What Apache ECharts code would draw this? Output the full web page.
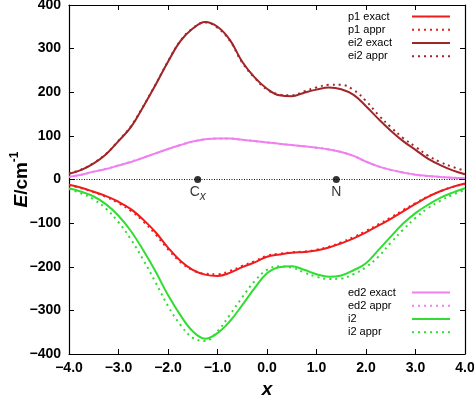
<!DOCTYPE html>
<html>
<head>
<meta charset="utf-8">
<script src="https://cdn.jsdelivr.net/npm/echarts@6/dist/echarts.min.js"></script>
<style>
html,body{margin:0;padding:0;background:#fff;}
#chart{width:474px;height:395px;}
</style>
</head>
<body>
<div id="chart"></div>
<script>
const xs = [-4,-3.75,-3.5,-3.25,-3,-2.75,-2.5,-2.25,-2,-1.75,-1.5,-1.25,-1,-0.75,-0.5,-0.25,0,0.25,0.5,0.75,1,1.25,1.5,1.75,2,2.25,2.5,2.75,3,3.25,3.5,3.75,4];

const p1Exact = [-12,-19,-28,-38,-51,-68,-92,-121,-156,-186,-207,-218,-221,-214,-201,-190,-177,-172,-168,-166,-163,-156,-146,-135,-121,-106,-90,-73,-56,-40,-27,-17,-9];
const p1Appr  = [-13,-20,-29,-40,-54,-72,-96,-126,-160,-189,-208,-216,-217,-210,-198,-187,-175,-170,-167,-165,-161,-154,-144,-132,-118,-103,-87,-70,-54,-39,-27,-17,-10];
const ei2Exact = [13,22,37,58,88,120,167,217,270,317,346,361,350,320,270,234,208,193,191,199,206,211,207,194,168,139,112,88,68,48,33,21,12];
const ei2Appr  = [14,23,38,59,89,122,168,218,271,318,347,360,348,318,268,233,206,195,193,202,211,217,217,205,180,148,120,95,75,55,40,29,20];
const ed2Exact = [6,11,18,24,32,40,50,60,70,79,87,92,94,94,91,88,85,82,79,76,73,69,63,54,41,30,22,16,11,8,6,4,3];
const ed2Appr  = [6,11,18,25,32,41,50,60,70,79,87,92,94,94,91,88,85,82,79,76,73,69,63,54,41,30,22,16,11,8,6,4,3];
const i2Exact = [-20,-28,-39,-57,-83,-118,-162,-211,-265,-311,-348,-365,-352,-325,-288,-249,-215,-201,-199,-207,-217,-223,-220,-208,-192,-162,-131,-101,-77,-58,-42,-30,-20];
const i2Appr  = [-22,-32,-46,-67,-98,-137,-184,-236,-290,-333,-363,-370,-348,-310,-270,-233,-207,-199,-202,-213,-223,-228,-227,-217,-201,-177,-145,-115,-88,-66,-49,-35,-24];

const pointNames = ['Cx','N'];
const pointX = [-1.4, 1.4];
const pointY = [0, 0];

const xTicks = [-4,-3,-2,-1,0,1,2,3,4];
const yTicks = [-400,-300,-200,-100,0,100,200,300,400];

const FONT = 'Liberation Sans, Arial, Helvetica, sans-serif';
const C_RED = '#f01c1c', C_DRED = '#a1262a', C_VIO = '#f07ff0', C_GRN = '#30dd30';
const DOT = [2,4];

function pairs(arr){ return xs.map((x,i)=>[x, arr[i]]); }
function fmtMinus(s){ return String(s).replace('-', '\u2212'); }

function lineSeries(name, arr, color, dotted, z){
  return {
    name, type:'line', data: pairs(arr), smooth: 0.4, symbol:'none', showSymbol:false,
    lineStyle:{ color, width: 2, type: dotted ? DOT : 'solid', cap:'butt' },
    itemStyle:{ color }, z: z, animation:false
  };
}

function mkLegend(names, top){
  return {
    orient:'vertical', left:348, top, padding:0, itemGap:2, itemWidth:38, itemHeight:14,
    align:'right', data:names, selectedMode:false,
    itemStyle:{ opacity:0 },
    formatter: n => '{t|' + n + '}',
    textStyle:{ fontFamily:FONT, fontSize:11, color:'#000',
      rich:{ t:{ width:59, align:'left', fontSize:11, lineHeight:14, fontFamily:FONT, color:'#000' } } }
  };
}

const chart = echarts.init(document.getElementById('chart'), null, {renderer:'canvas'});
const axisCommon = {
  axisLine:{ show:true, onZero:false, lineStyle:{ color:'#000', width:1.2 } },
  axisTick:{ show:true, inside:true, length:5, lineStyle:{ color:'#000', width:1 } },
  splitLine:{ show:false }
};

chart.setOption({
  animation:false,
  backgroundColor:'#fff',
  grid:{ left:69, right:9, top:5, bottom:41, containLabel:false, outerBoundsMode:'none' },
  legend:[
    mkLegend(['p1 exact','p1 appr','ei2 exact','ei2 appr'], 11),
    mkLegend(['ed2 exact','ed2 appr','i2','i2 appr'], 287)
  ],
  xAxis:[
    Object.assign({ type:'value', min:xTicks[0], max:xTicks[xTicks.length-1], interval:1, position:'bottom',
      name:'x', nameLocation:'middle', nameGap:22,
      nameTextStyle:{ fontFamily:FONT, fontSize:19, fontStyle:'italic', fontWeight:'bold', color:'#000' },
      axisLabel:{ show:true, margin:7, color:'#000', fontFamily:FONT, fontSize:14, fontWeight:'bold',
        formatter: v => fmtMinus(v.toFixed(1)) } }, axisCommon),
    Object.assign({ type:'value', min:xTicks[0], max:xTicks[xTicks.length-1], interval:1, position:'top',
      axisLabel:{ show:false } }, axisCommon)
  ],
  yAxis:[
    Object.assign({ type:'value', min:yTicks[0], max:yTicks[yTicks.length-1], interval:100, position:'left',
      name:'{e|E}{n|/cm}{p|-1}', nameLocation:'middle', nameGap:38, nameRotate:90, nameMoveOverlap:false,
      nameTextStyle:{ fontFamily:FONT, fontSize:18, color:'#000',
        rich:{
          e:{ fontFamily:FONT, fontSize:19, fontStyle:'italic', fontWeight:'bold', color:'#000', lineHeight:22, verticalAlign:'bottom' },
          n:{ fontFamily:FONT, fontSize:19, fontWeight:'bold', color:'#000', lineHeight:22, verticalAlign:'bottom' },
          p:{ fontFamily:FONT, fontSize:12, fontWeight:'bold', color:'#000', lineHeight:12, verticalAlign:'top' }
        } },
      axisLabel:{ show:true, margin:8, color:'#000', fontFamily:FONT, fontSize:14, fontWeight:'bold',
        formatter: v => fmtMinus(v) } }, axisCommon),
    Object.assign({ type:'value', min:yTicks[0], max:yTicks[yTicks.length-1], interval:100, position:'right',
      axisLabel:{ show:false } }, axisCommon)
  ],
  series:[
    { name:'zero', type:'line', data:[[xTicks[0],0],[xTicks[xTicks.length-1],0]], symbol:'none',
      lineStyle:{ color:'#111', width:1, type:[1,1.5] }, z:1, silent:true },
    lineSeries('ed2 exact', ed2Exact, C_VIO, false, 2),
    lineSeries('ed2 appr', ed2Appr, C_VIO, true, 3),
    lineSeries('i2', i2Exact, C_GRN, false, 2),
    lineSeries('i2 appr', i2Appr, C_GRN, true, 3),
    lineSeries('p1 exact', p1Exact, C_RED, false, 4),
    lineSeries('p1 appr', p1Appr, C_RED, true, 5),
    lineSeries('ei2 exact', ei2Exact, C_DRED, false, 4),
    lineSeries('ei2 appr', ei2Appr, C_DRED, true, 5),
    { name:'points', type:'scatter', z:10, symbol:'circle', symbolSize:7,
      itemStyle:{ color:'#000' },
      data: pointNames.map((n,i)=>({ value:[pointX[i], pointY[i]],
        label:{ show:true, position:'bottom', distance:2,
          formatter: n === 'Cx' ? '{c|C}{s|x}' : '{c|N}',
          rich:{
            c:{ fontFamily:FONT, fontSize:14, color:'#000', lineHeight:18, verticalAlign:'top' },
            s:{ fontFamily:FONT, fontSize:12, fontStyle:'italic', color:'#000', lineHeight:12, verticalAlign:'bottom' }
          } } })) }
  ]
});
</script>
</body>
</html>
